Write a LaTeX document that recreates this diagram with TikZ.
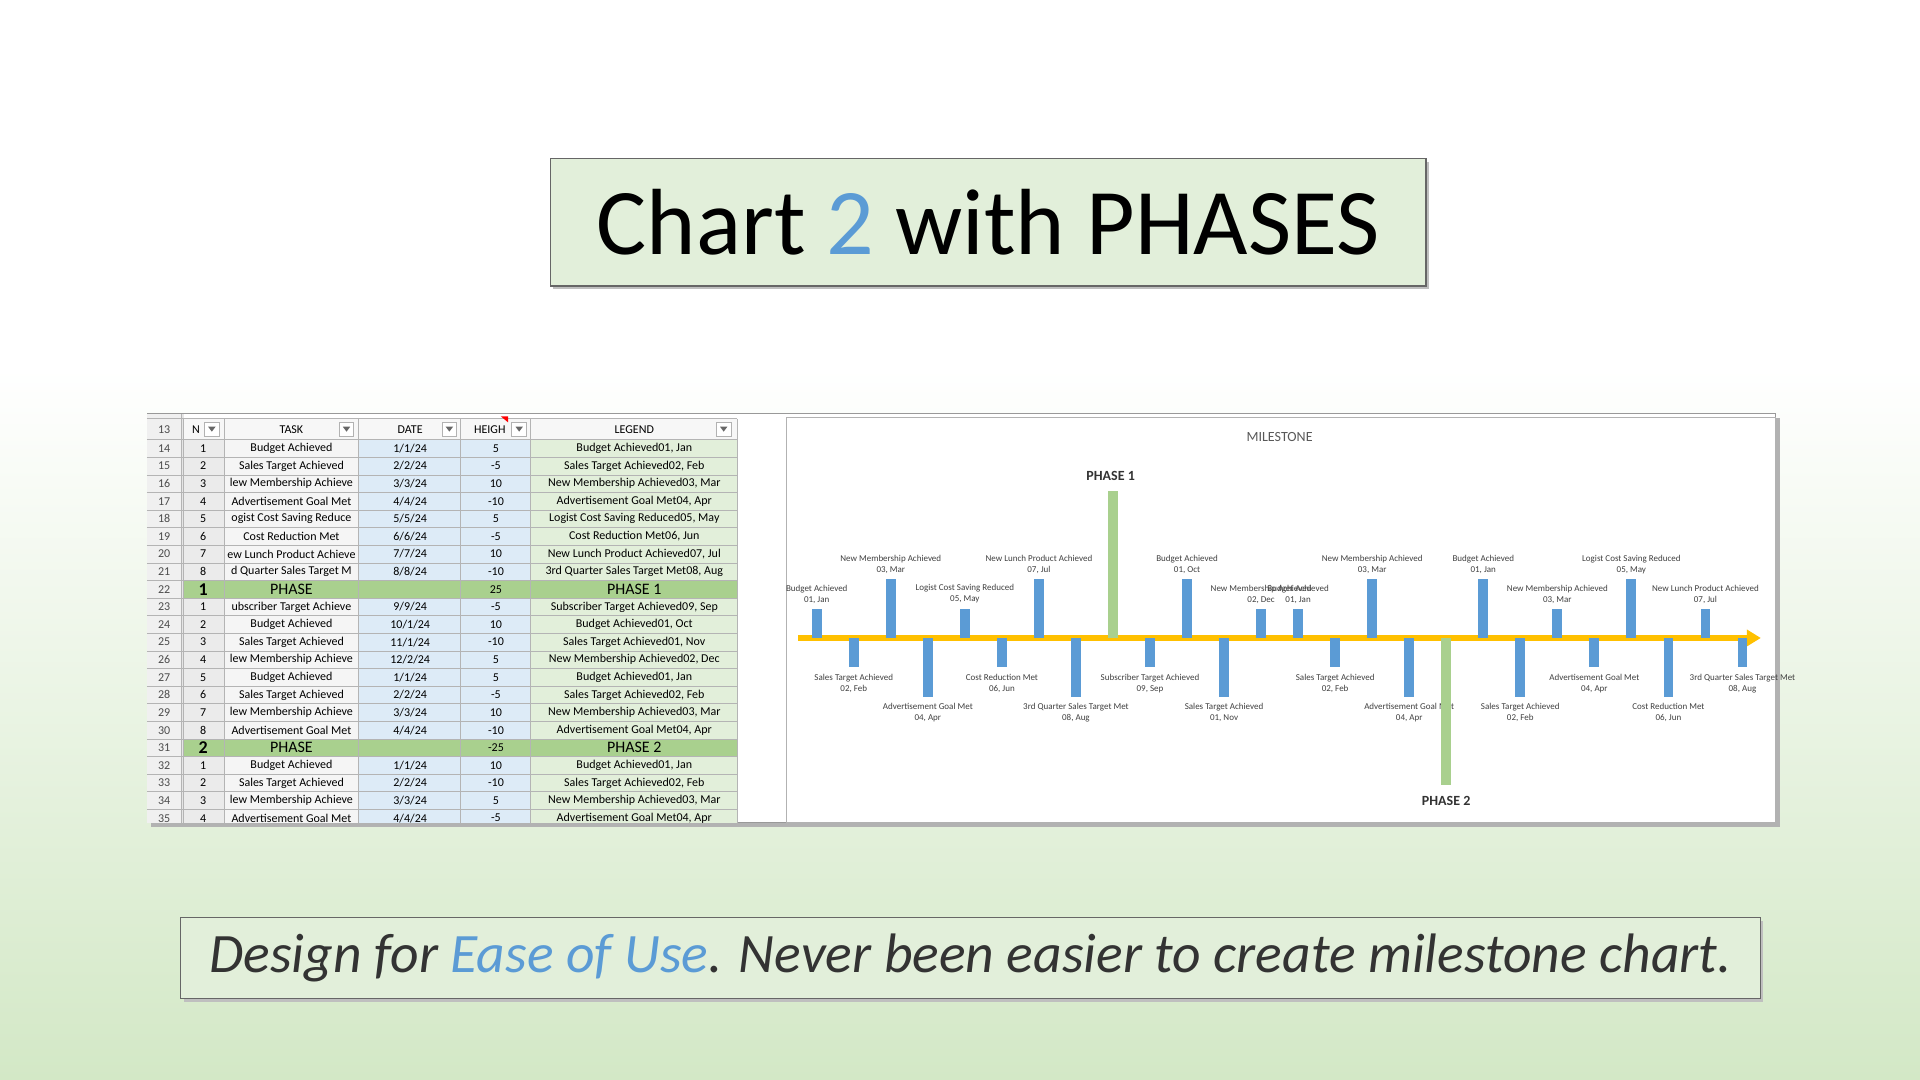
\documentclass[tikz,border=0pt]{standalone}
\usepackage{fontspec}
\setmainfont{Carlito}
\usetikzlibrary{arrows.meta}
\definecolor{bgg}{HTML}{D3E8C6}
\definecolor{tboxf}{HTML}{E2EFDA}
\definecolor{blu}{HTML}{5B9BD5}
\definecolor{titleblue}{HTML}{5B9BD5}
\definecolor{grn}{HTML}{A9D08E}
\definecolor{lblue}{HTML}{DDEBF7}
\definecolor{lgreen}{HTML}{E2EFDA}
\definecolor{grid}{HTML}{B4B4B4}
\definecolor{axis}{HTML}{FFC000}
\tikzset{
 cell/.style={font=\fontsize{6}{7}\selectfont, inner sep=0pt},
 lab/.style={font=\fontsize{4.5}{5.5}\selectfont, align=center, text=black!75, inner sep=0pt},
 bar/.style={fill=blu, draw=none},
 pbar/.style={fill=grn, draw=none},
 boxs/.style={draw=black!60, line width=0.6pt, fill=tboxf}
}
\begin{document}
\begin{tikzpicture}[x=0.61225pt,y=-0.61225pt]
\fill[white] (0,0) rectangle (1568,300);
\shade[top color=white, bottom color=bgg] (0,300) rectangle (1568,882);
\useasboundingbox (0,0) rectangle (1568,882);
% title
\fill[black!25] (452,132) rectangle (1167,236);
\node[boxs, minimum width=715*0.61225pt, minimum height=104*0.61225pt, anchor=north west, inner sep=0] (title) at (449,129) {};
\node[font=\fontsize{47}{52}\selectfont] at (title.center) {Chart \textcolor{titleblue}{2} with PHASES};
% bottom
\fill[black!25] (150,752) rectangle (1440,818);
\node[boxs, minimum width=1290*0.61225pt, minimum height=66*0.61225pt, anchor=north west, inner sep=0] (sub) at (147,749) {};
\node[font=\fontsize{27.8}{32}\selectfont\itshape, text=black!80] at (sub.center) {Design for \textcolor{titleblue}{Ease of Use}. Never been easier to create milestone chart.};
% screenshot frame
\fill[black!30] (123,341) rectangle (1454,675);
\fill[white] (120,338) rectangle (1450,672);
\draw[black!40] (120,338) rectangle (1450,672);
% table
\fill[black!6] (120,338) rectangle (148,672);
\fill[black!10] (148,338) rectangle (150,672);
\fill[black!8] (150,342) rectangle (183,672);
\fill[black!4] (183,359) rectangle (293,672);
\fill[lblue] (293,359) rectangle (433,672);
\fill[lgreen] (433,359) rectangle (602,672);
\fill[black!3] (150,342) rectangle (602,359);
\fill[grn] (150,474) rectangle (602,488.4);
\fill[grn] (150,603.5) rectangle (602,617.9);
\draw[grid, line width=0.3pt] (120,342) -- (602,342);
\foreach \kk in {0,...,21} \draw[grid, line width=0.3pt] (120,359+\kk*14.38) -- (602,359+\kk*14.38);
\foreach \xx in {150,183,293,376,433,602} \draw[grid, line width=0.3pt] (\xx,342) -- (\xx,672);
\draw[grid, line width=0.3pt] (148,338) -- (148,672);
% header
\node[cell] (hn) at (160,350.5) {N};
\node[cell] (ht) at (238,350.5) {TASK};
\node[cell] (hd) at (335,350.5) {DATE};
\node[cell] (hh) at (400,350.5) {HEIGH};
\node[cell] (hl) at (518,350.5) {LEGEND};
\node[cell, text=black!70] at (134,350.5) {13};
\foreach \xx in {173,283,367,424,591} {
 \draw[black!30, fill=white] (\xx-6,345) rectangle (\xx+6,356);
 \fill[black!60] (\xx-3,348.5) -- (\xx+3,348.5) -- (\xx,352.5) -- cycle;}
\fill[red] (409,340) -- (415,340) -- (415,345) -- cycle;
\foreach \qr in {14,...,35} \node[cell, text=black!70] at (134,366.2+\qr*14.38-201.32) {\qr};
\foreach \qr/\qn/\qt/\qd/\qh/\ql in {
14/1/Budget Achieved/1\slash1\slash24/5/{Budget Achieved01, Jan},
15/2/Sales Target Achieved/2\slash2\slash24/-5/{Sales Target Achieved02, Feb},
16/3/lew Membership Achieve/3\slash3\slash24/10/{New Membership Achieved03, Mar},
17/4/Advertisement Goal Met/4\slash4\slash24/-10/{Advertisement Goal Met04, Apr},
18/5/ogist Cost Saving Reduce/5\slash5\slash24/5/{Logist Cost Saving Reduced05, May},
19/6/Cost Reduction Met/6\slash6\slash24/-5/{Cost Reduction Met06, Jun},
20/7/ew Lunch Product Achieve/7\slash7\slash24/10/{New Lunch Product Achieved07, Jul},
21/8/d Quarter Sales Target M/8\slash8\slash24/-10/{3rd Quarter Sales Target Met08, Aug},
23/1/ubscriber Target Achieve/9\slash9\slash24/-5/{Subscriber Target Achieved09, Sep},
24/2/Budget Achieved/10\slash1\slash24/10/{Budget Achieved01, Oct},
25/3/Sales Target Achieved/11\slash1\slash24/-10/{Sales Target Achieved01, Nov},
26/4/lew Membership Achieve/12\slash2\slash24/5/{New Membership Achieved02, Dec},
27/5/Budget Achieved/1\slash1\slash24/5/{Budget Achieved01, Jan},
28/6/Sales Target Achieved/2\slash2\slash24/-5/{Sales Target Achieved02, Feb},
29/7/lew Membership Achieve/3\slash3\slash24/10/{New Membership Achieved03, Mar},
30/8/Advertisement Goal Met/4\slash4\slash24/-10/{Advertisement Goal Met04, Apr},
32/1/Budget Achieved/1\slash1\slash24/10/{Budget Achieved01, Jan},
33/2/Sales Target Achieved/2\slash2\slash24/-10/{Sales Target Achieved02, Feb},
34/3/lew Membership Achieve/3\slash3\slash24/5/{New Membership Achieved03, Mar},
35/4/Advertisement Goal Met/4\slash4\slash24/-5/{Advertisement Goal Met04, Apr}} {
 \pgfmathsetmacro{\yy}{366.2+\qr*14.38-201.32}
 \node[cell] at (166,\yy) {\qn};
 \node[cell] at (238,\yy) {\qt};
 \node[cell] at (335,\yy) {\qd};
 \node[cell] at (405,\yy) {\qh};
 \node[cell] at (518,\yy) {\ql};
}
\foreach \qr/\qn/\qh/\ql in {22/1/25/PHASE 1, 31/2/-25/PHASE 2} {
 \pgfmathsetmacro{\yy}{366.2+\qr*14.38-201.32}
 \node[cell, font=\fontsize{9}{10}\selectfont\bfseries] at (166,\yy) {\qn};
 \node[cell, font=\fontsize{8}{9}\selectfont] at (238,\yy) {PHASE};
 \node[cell] at (405,\yy) {\qh};
 \node[cell, font=\fontsize{8}{9}\selectfont] at (518,\yy) {\ql};
}
% chart
\draw[black!30, fill=white] (642,341) rectangle (1450,672);
\node[font=\fontsize{7}{8}\selectfont, text=black!65] (ms) at (1045,357) {MILESTONE};
\coordinate (a0) at (652,521);
\coordinate (a1) at (1438,521);
\draw[axis, line width=3.2pt, -{Triangle[length=7pt,width=8pt]}] (a0) -- (a1);
\foreach \qi/\qv/\qa/\qb in {
0/5/Budget Achieved/{01, Jan},
1/-5/Sales Target Achieved/{02, Feb},
2/10/New Membership Achieved/{03, Mar},
3/-10/Advertisement Goal Met/{04, Apr},
4/5/Logist Cost Saving Reduced/{05, May},
5/-5/Cost Reduction Met/{06, Jun},
6/10/New Lunch Product Achieved/{07, Jul},
7/-10/3rd Quarter Sales Target Met/{08, Aug},
9/-5/Subscriber Target Achieved/{09, Sep},
10/10/Budget Achieved/{01, Oct},
11/-10/Sales Target Achieved/{01, Nov},
12/5/New Membership Achieved/{02, Dec},
13/5/Budget Achieved/{01, Jan},
14/-5/Sales Target Achieved/{02, Feb},
15/10/New Membership Achieved/{03, Mar},
16/-10/Advertisement Goal Met/{04, Apr},
18/10/Budget Achieved/{01, Jan},
19/-10/Sales Target Achieved/{02, Feb},
20/5/New Membership Achieved/{03, Mar},
21/-5/Advertisement Goal Met/{04, Apr},
22/10/Logist Cost Saving Reduced/{05, May},
23/-10/Cost Reduction Met/{06, Jun},
24/5/New Lunch Product Achieved/{07, Jul},
25/-5/3rd Quarter Sales Target Met/{08, Aug}} {
 \pgfmathsetmacro{\xx}{667+\qi*30.24}
 \pgfmathsetmacro{\yy}{521-\qv*4.8}
 \fill[bar] (\xx-4,521) rectangle (\xx+4,\yy);
 \ifnum\qv>0
  \node[lab, anchor=south] (m\qi) at (\xx,\yy-4) {\qa\\\qb};
 \else
  \node[lab, anchor=north] (m\qi) at (\xx,\yy+5) {\qa\\\qb};
 \fi
}
\fill[pbar] (905,521) rectangle (913,401);
\fill[pbar] (1177,521) rectangle (1185,641);
\node[font=\fontsize{7}{8}\selectfont\bfseries, text=black!80] (p1) at (907,389) {PHASE 1};
\node[font=\fontsize{7}{8}\selectfont\bfseries, text=black!80] (p2) at (1181,654) {PHASE 2};
\end{tikzpicture}
\end{document}
